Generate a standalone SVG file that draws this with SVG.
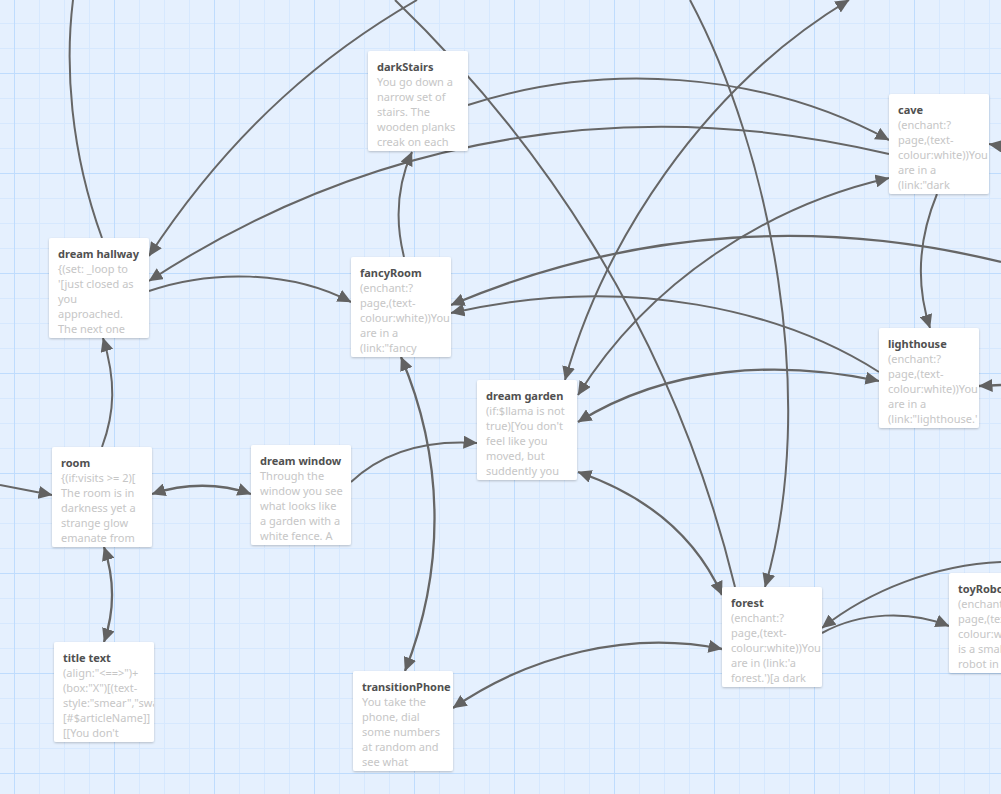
<svg xmlns="http://www.w3.org/2000/svg" width="1001" height="794" viewBox="0 0 1001 794">
<defs>
<pattern id="grid" width="100" height="100" patternUnits="userSpaceOnUse" patternTransform="translate(14 23)">
<path d="M0.5 0V100M25.5 0V100M50.5 0V100M75.5 0V100M0 0.5H100M0 25.5H100M0 50.5H100M0 75.5H100" stroke="#d6e8fe" stroke-width="1" fill="none"/>
<path d="M0.5 0V100M0 50.5H100" stroke="#bfdcfd" stroke-width="1" fill="none"/>
</pattern>
<marker id="a" viewBox="0 0 14 13" refX="13.5" refY="6.5" markerWidth="14" markerHeight="13" markerUnits="userSpaceOnUse" orient="auto-start-reverse"><path d="M0 0L14 6.5L0 13Z" fill="#626262"/></marker>
<filter id="s" x="-5%" y="-5%" width="110%" height="110%"><feDropShadow dx="0" dy="1" stdDeviation="1" flood-color="#000" flood-opacity="0.22"/></filter>
<clipPath id="c"><rect x="0" y="0" width="100" height="100" rx="2"/></clipPath>
</defs>
<style>
.l{fill:none;stroke:#666;stroke-width:2}
.h{stroke-width:2.3}
.e{marker-end:url(#a)}
.b{marker-start:url(#a);marker-end:url(#a)}
.r{fill:#fff;filter:url(#s)}
text{font-family:"Noto Sans","Open Sans",sans-serif;font-size:11px}
.t{font-weight:700;fill:#505050}
.x{fill:#c6c6c6}
</style>
<rect width="1001" height="794" fill="#e5f0fe"/>
<rect width="1001" height="794" fill="url(#grid)"/>
<g id="connectors">
<path class="l" d="M73 0C65 65 70 150 102 238"/>
<path class="l e" d="M417 0C330 50 235 125 149 256"/>
<path class="l e" d="M889 154C640 95 380 130 149 281"/>
<path class="l e" d="M468 105C600 62 760 70 889 140"/>
<path class="l" d="M395 0C530 130 670 320 735 587"/>
<path class="l e" d="M404 257C396 225 395 190 412 152"/>
<path class="l e" d="M149 291C210 270 290 270 351 302"/>
<path class="l e" d="M102 447C115 412 116 380 103 338"/>
<path class="l h b" d="M152 494C185 483 220 483 251 494"/>
<path class="l e" d="M0 485L52 495"/>
<path class="l h b" d="M104 547C115 580 115 610 104 642"/>
<path class="l e" d="M351 482C385 450 430 440 477 443"/>
<path class="l h b" d="M401 357C445 460 445 570 405 671"/>
<path class="l h e" d="M1001 262C830 220 640 225 451 305"/>
<path class="l e" d="M879 372C785 312 630 272 451 313"/>
<path class="l b" d="M565 380C603 245 700 90 849 0"/>
<path class="l e" d="M690 0C770 150 820 400 765 587"/>
<path class="l b" d="M889 178C770 205 650 280 578 395"/>
<path class="l h b" d="M578 422C670 365 780 360 879 381"/>
<path class="l e" d="M937 194C918 240 916 285 930 328"/>
<path class="l e" d="M1001 146L989 144"/>
<path class="l h e" d="M1001 385L979 386"/>
<path class="l h b" d="M578 472C645 495 695 535 722 595"/>
<path class="l h b" d="M453 708C530 655 630 630 722 649"/>
<path class="l e" d="M1001 562C935 565 870 590 822 628"/>
<path class="l e" d="M822 633C860 612 910 610 949 626"/>
</g>
<g id="darkStairs" transform="translate(368 51)"><rect class="r" width="100" height="100" rx="2"/><g clip-path="url(#c)"><text class="t" x="9" y="20">darkStairs</text><text class="x" x="9" y="35">You go down a</text><text class="x" x="9" y="50">narrow set of</text><text class="x" x="9" y="65">stairs. The</text><text class="x" x="9" y="80">wooden planks</text><text class="x" x="9" y="95">creak on each</text></g></g>
<g id="dreamHallway" transform="translate(49 238)"><rect class="r" width="100" height="100" rx="2"/><g clip-path="url(#c)"><text class="t" x="9" y="20">dream hallway</text><text class="x" x="9" y="35">{(set: _loop to</text><text class="x" x="9" y="50">'[just closed as</text><text class="x" x="9" y="65">you</text><text class="x" x="9" y="80">approached.</text><text class="x" x="9" y="95">The next one</text></g></g>
<g id="fancyRoom" transform="translate(351 257)"><rect class="r" width="100" height="100" rx="2"/><g clip-path="url(#c)"><text class="t" x="9" y="20">fancyRoom</text><text class="x" x="9" y="35">(enchant:?</text><text class="x" x="9" y="50">page,(text-</text><text class="x" x="9" y="65">colour:white))You</text><text class="x" x="9" y="80">are in a</text><text class="x" x="9" y="95">(link:"fancy</text></g></g>
<g id="cave" transform="translate(889 94)"><rect class="r" width="100" height="100" rx="2"/><g clip-path="url(#c)"><text class="t" x="9" y="20">cave</text><text class="x" x="9" y="35">(enchant:?</text><text class="x" x="9" y="50">page,(text-</text><text class="x" x="9" y="65">colour:white))You</text><text class="x" x="9" y="80">are in a</text><text class="x" x="9" y="95">(link:"dark</text></g></g>
<g id="lighthouse" transform="translate(879 328)"><rect class="r" width="100" height="100" rx="2"/><g clip-path="url(#c)"><text class="t" x="9" y="20">lighthouse</text><text class="x" x="9" y="35">(enchant:?</text><text class="x" x="9" y="50">page,(text-</text><text class="x" x="9" y="65">colour:white))You</text><text class="x" x="9" y="80">are in a</text><text class="x" x="9" y="95">(link:"lighthouse.'</text></g></g>
<g id="dreamGarden" transform="translate(477 380)"><rect class="r" width="100" height="100" rx="2"/><g clip-path="url(#c)"><text class="t" x="9" y="20">dream garden</text><text class="x" x="9" y="35">(if:$llama is not</text><text class="x" x="9" y="50">true)[You don't</text><text class="x" x="9" y="65">feel like you</text><text class="x" x="9" y="80">moved, but</text><text class="x" x="9" y="95">suddently you</text></g></g>
<g id="room" transform="translate(52 447)"><rect class="r" width="100" height="100" rx="2"/><g clip-path="url(#c)"><text class="t" x="9" y="20">room</text><text class="x" x="9" y="35">{(if:visits &gt;= 2)[</text><text class="x" x="9" y="50">The room is in</text><text class="x" x="9" y="65">darkness yet a</text><text class="x" x="9" y="80">strange glow</text><text class="x" x="9" y="95">emanate from</text></g></g>
<g id="dreamWindow" transform="translate(251 445)"><rect class="r" width="100" height="100" rx="2"/><g clip-path="url(#c)"><text class="t" x="9" y="20">dream window</text><text class="x" x="9" y="35">Through the</text><text class="x" x="9" y="50">window you see</text><text class="x" x="9" y="65">what looks like</text><text class="x" x="9" y="80">a garden with a</text><text class="x" x="9" y="95">white fence. A</text></g></g>
<g id="titleText" transform="translate(54 642)"><rect class="r" width="100" height="100" rx="2"/><g clip-path="url(#c)"><text class="t" x="9" y="20">title text</text><text class="x" x="9" y="35">(align:"&lt;==&gt;")+</text><text class="x" x="9" y="50">(box:"X")[(text-</text><text class="x" x="9" y="65">style:"smear","swa</text><text class="x" x="9" y="80">[#$articleName]]</text><text class="x" x="9" y="95">[[You don't</text></g></g>
<g id="forest" transform="translate(722 587)"><rect class="r" width="100" height="100" rx="2"/><g clip-path="url(#c)"><text class="t" x="9" y="20">forest</text><text class="x" x="9" y="35">(enchant:?</text><text class="x" x="9" y="50">page,(text-</text><text class="x" x="9" y="65">colour:white))You</text><text class="x" x="9" y="80">are in (link:'a</text><text class="x" x="9" y="95">forest.')[a dark</text></g></g>
<g id="toyRobot" transform="translate(949 573)"><rect class="r" width="100" height="100" rx="2"/><g clip-path="url(#c)"><text class="t" x="9" y="20">toyRobot</text><text class="x" x="9" y="35">(enchant:?</text><text class="x" x="9" y="50">page,(text-</text><text class="x" x="9" y="65">colour:white))You</text><text class="x" x="9" y="80">is a small</text><text class="x" x="9" y="95">robot in</text></g></g>
<g id="transitionPhone" transform="translate(353 671)"><rect class="r" width="100" height="100" rx="2"/><g clip-path="url(#c)"><text class="t" x="9" y="20">transitionPhone</text><text class="x" x="9" y="35">You take the</text><text class="x" x="9" y="50">phone, dial</text><text class="x" x="9" y="65">some numbers</text><text class="x" x="9" y="80">at random and</text><text class="x" x="9" y="95">see what</text></g></g>
</svg>
